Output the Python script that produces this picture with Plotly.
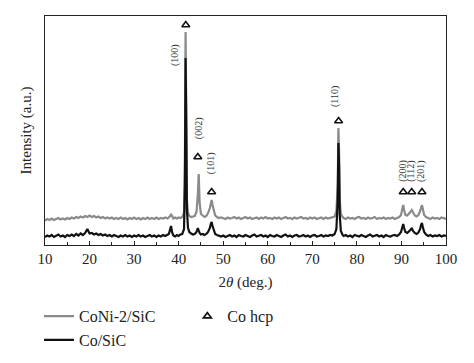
import plotly.graph_objects as go

# ---------------- data ----------------
two_theta = [
    10.0, 10.5, 11.0, 11.5, 12.0, 12.5, 13.0, 13.5, 14.0, 14.5, 15.0, 15.5, 16.0, 16.5,
    17.0, 17.5, 18.0, 18.5, 19.0, 19.5, 20.0, 20.5, 21.0, 21.5, 22.0, 22.5, 23.0, 23.5,
    24.0, 24.5, 25.0, 25.5, 26.0, 26.5, 27.0, 27.5, 28.0, 28.5, 29.0, 29.5, 30.0, 30.5,
    31.0, 31.5, 32.0, 32.5, 33.0, 33.5, 34.0, 34.5, 35.0, 35.5, 36.0, 36.5, 37.0, 37.5,
    37.8, 38.1, 38.3, 38.5, 38.8, 39.2, 39.6, 40.0, 40.4, 40.8, 41.2, 41.4, 41.55, 41.7,
    41.85, 42.1, 42.4, 42.8, 43.2, 43.6, 44.0, 44.3, 44.5, 44.7, 45.0, 45.4, 45.8, 46.2,
    46.6, 47.0, 47.2, 47.4, 47.6, 47.9, 48.2, 48.6, 49.0, 49.5,
    50.0, 50.5, 51.0, 51.5, 52.0, 52.5, 53.0, 53.5, 54.0, 54.5, 55.0, 55.5, 56.0, 56.5,
    57.0, 57.5, 58.0, 58.5, 59.0, 59.5, 60.0, 60.5, 61.0, 61.5, 62.0, 62.5, 63.0, 63.5,
    64.0, 64.5, 65.0, 65.5, 66.0, 66.5, 67.0, 67.5, 68.0, 68.5, 69.0, 69.5, 70.0, 70.5,
    71.0, 71.5, 72.0, 72.5, 73.0, 73.5, 74.0, 74.5, 75.0,
    75.4, 75.7, 75.85, 76.0, 76.15, 76.4, 76.8,
    77.0, 77.5, 78.0, 78.5, 79.0, 79.5, 80.0, 80.5, 81.0, 81.5, 82.0, 82.5, 83.0, 83.5,
    84.0, 84.5, 85.0, 85.5, 86.0, 86.5, 87.0, 87.5, 88.0, 88.5, 89.0, 89.5,
    89.9, 90.2, 90.4, 90.6, 90.9, 91.3, 91.7, 92.0, 92.3, 92.6, 93.0, 93.4, 93.8, 94.2,
    94.4, 94.6, 94.8, 95.1, 95.5,
    96.0, 96.5, 97.0, 97.5, 98.0, 98.5, 99.0, 99.5, 100.0,
]

intensity_coni2_sic = [
    24.5, 26, 25, 26.5, 25, 26, 27, 25.5, 26.5, 25.5, 27, 26, 27.5, 26.5,
    28, 27, 28.5, 27.5, 29, 28, 29.5, 28, 29, 27.5, 28.5, 27, 28, 26.5,
    27.5, 26.5, 27.5, 26, 27, 26, 27.5, 26, 27, 25.5, 27, 26, 27.5, 26,
    27, 25.5, 27, 26, 27.5, 26, 27, 26, 27.5, 26, 27, 26.5, 27.5, 26.5,
    27.5, 29, 31, 28.5, 26.5, 27.5, 26.5, 27.5, 27, 28, 32, 80, 213, 140,
    45, 32, 29, 28, 28.5, 29, 33, 50, 71, 42, 31, 29, 28, 29,
    32, 37, 42, 45, 40, 33, 29.5, 28, 27, 27.5,
    27, 26, 27.5, 26.5, 27, 28, 26.5, 27.5, 26, 27, 28, 26.5, 27.5, 26,
    27, 27.5, 26, 27.5, 26.5, 28, 26.5, 27, 26, 27.5, 26.5, 27.5, 26, 27,
    28, 26.5, 27, 26, 27.5, 26.5, 27, 28, 26.5, 27, 26, 27.5, 26.5, 27.5,
    26, 27, 27.5, 26, 27.5, 26.5, 27, 27.5, 28.5,
    34, 60, 117, 95, 45, 31, 28,
    27, 26, 27.5, 26.5, 27, 26, 27.5, 28, 26.5, 27, 26, 27.5, 26.5, 27,
    28, 26, 27, 26.5, 27.5, 26, 27, 26.5, 27.5, 26, 27, 28,
    30, 36, 40, 35, 30, 29.5, 31, 33, 35, 32, 29.5, 28.5, 30, 34,
    38, 40, 36, 30, 28,
    27, 26, 27.5, 26.5, 27, 26, 27.5, 26.5, 26,
]

intensity_co_sic = [
    8, 9.5, 8.5, 10, 8, 9, 10.5, 8.5, 9.5, 8, 10, 9, 10.5, 9,
    11, 9.5, 11.5, 10, 12, 16, 11.5, 12, 10.5, 11.5, 10, 11, 9.5, 10.5,
    9, 10, 8.5, 10, 9, 8, 9.5, 8.5, 10, 8.5, 9.5, 8, 9.5, 8.5,
    10, 8.5, 9.5, 8, 9, 10, 8.5, 9.5, 8, 9.5, 8.5, 10, 9, 10,
    11, 16, 19, 13, 9.5, 8.5, 10, 9, 10.5, 11, 16, 60, 187, 120,
    35, 17, 13, 11.5, 10.5, 11, 13, 17, 14, 12, 10.5, 11, 10, 11,
    13, 17, 21, 23, 19, 14, 11, 10, 9.5, 8.5,
    9.5, 8, 9, 10, 8.5, 9.5, 8, 10, 9, 8.5, 10, 9, 8, 9.5,
    10.5, 8.5, 9, 10, 8.5, 9.5, 8, 10, 9, 8.5, 10, 9, 8, 9.5,
    10.5, 8.5, 9.5, 8, 9.5, 10, 8.5, 9, 10, 8.5, 9.5, 8, 9.5, 10,
    8.5, 9, 10, 8.5, 9.5, 9, 10, 9.5, 11,
    16, 45, 102, 80, 30, 14, 10,
    9, 10, 8.5, 9.5, 8, 10, 9, 8.5, 10, 9, 8, 9.5, 10.5, 8.5,
    9, 10, 8.5, 9.5, 8, 10, 9, 8.5, 9.5, 10, 9, 10.5,
    13, 18, 21, 17, 13, 12, 13.5, 15, 17, 14, 12, 11, 12.5, 16,
    20, 22, 18, 13, 10.5,
    9, 10, 8.5, 9.5, 9, 10, 8.5, 9.5, 9,
]

# Co hcp reflections
hcp_labels = ["(100)", "(002)", "(101)", "(110)", "(200)", "(112)", "(201)"]
hcp_two_theta = [41.6, 44.3, 47.4, 75.9, 90.4, 92.3, 94.6]
hcp_marker_level = [220, 88, 53, 124, 53, 53, 53]

x_tick_values = [10, 20, 30, 40, 50, 60, 70, 80, 90, 100]

# ---------------- layout constants ----------------
label_x = [39.2, 44.6, 47.3, 75.1, 90.3, 92.1, 94.4]
label_y = [190, 117, 82, 148, 74, 74, 74]
FONT = "Liberation Serif"

fig = go.Figure()
fig.add_trace(go.Scatter(
    x=two_theta, y=intensity_coni2_sic, mode="lines", name="CoNi-2/SiC",
    line=dict(color="#8a8a8a", width=2.2), legend="legend",
))
fig.add_trace(go.Scatter(
    x=two_theta, y=intensity_co_sic, mode="lines", name="Co/SiC",
    line=dict(color="#111111", width=2.2), legend="legend",
))
fig.add_trace(go.Scatter(
    x=hcp_two_theta, y=hcp_marker_level, mode="markers", name="Co hcp",
    marker=dict(symbol="triangle-up-open", size=7, color="#111111",
                line=dict(width=1.6, color="#111111")),
    legend="legend2",
))

for lab, lx, ly in zip(hcp_labels, label_x, label_y):
    fig.add_annotation(x=lx, y=ly, text=lab, showarrow=False, textangle=-90,
                       font=dict(family=FONT, size=10, color="#333333"),
                       xref="x", yref="y")

# the page body has an 8px margin, so the figure is drawn 8px smaller
fig.update_layout(
    width=466, height=355,
    margin=dict(l=37, r=28, t=8, b=118, autoexpand=False),
    paper_bgcolor="white", plot_bgcolor="white",
    font=dict(family=FONT, size=15, color="#222222"),
    showlegend=True,
    legend=dict(x=-0.015, y=-0.237, xanchor="left", yanchor="top",
                bgcolor="rgba(0,0,0,0)", font=dict(family=FONT, size=16),
                tracegroupgap=0),
    legend2=dict(x=0.355, y=-0.237, xanchor="left", yanchor="top",
                 bgcolor="rgba(0,0,0,0)", font=dict(family=FONT, size=16)),
)
fig.update_xaxes(
    range=[10, 100], tickvals=x_tick_values, ticktext=[str(v) for v in x_tick_values],
    ticks="inside", ticklen=4, tickwidth=1, tickcolor="#222",
    minor=dict(dtick=5, tick0=5, ticks="inside", ticklen=3, tickcolor="#222"),
    showline=True, linecolor="#222", linewidth=1, mirror=True,
    showgrid=False, zeroline=False, automargin=False,
    title=dict(text="2<i>θ</i> (deg.)", font=dict(family=FONT, size=15), standoff=10),
    tickfont=dict(family=FONT, size=15),
)
fig.update_yaxes(
    range=[0, 229], showticklabels=False, ticks="",
    showline=True, linecolor="#222", linewidth=1, mirror=True,
    showgrid=False, zeroline=False, automargin=False,
    title=dict(text="Intensity (a.u.)", font=dict(family=FONT, size=15), standoff=8),
)

fig.write_html("out.html")
